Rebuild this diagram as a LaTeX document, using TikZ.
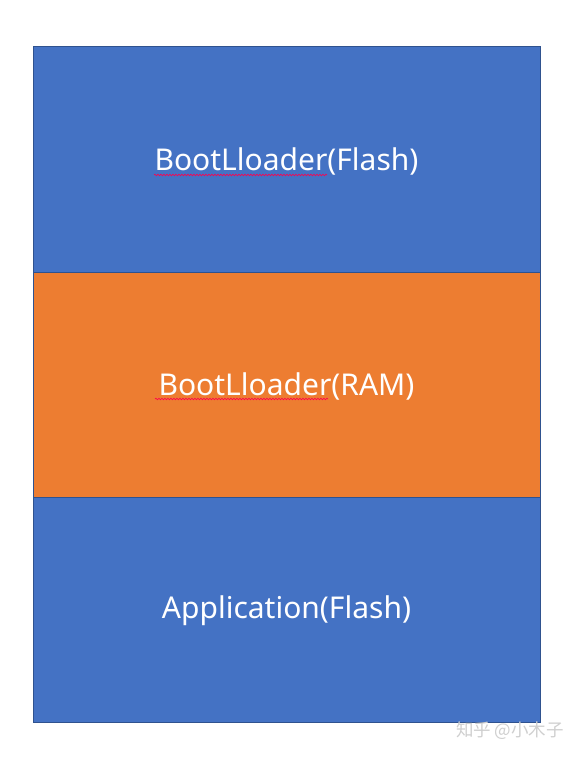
\documentclass[tikz,border=0pt]{standalone}
\usepackage{fontspec}
\setmainfont{Noto Sans}
\newfontfamily\cjk{Noto Sans CJK SC}
\usetikzlibrary{decorations.pathmorphing}
\definecolor{pblue}{HTML}{4472C4}
\definecolor{porange}{HTML}{ED7D31}
\definecolor{pedge}{HTML}{2F528F}
\definecolor{wm}{HTML}{CFCFCF}
\begin{document}
\begin{tikzpicture}[x=1pt,y=-1pt,
  band/.style={draw=pedge,line width=1pt,minimum width=507pt,minimum height=225pt,inner sep=0pt,outer sep=0pt,anchor=north west},
  lbl/.style={text=white,font=\fontsize{30}{36}\selectfont,inner sep=0pt},
  squig/.style={draw=red!70!magenta,line width=0.6pt,decorate,decoration={snake,amplitude=0.8pt,segment length=3pt}}]
\useasboundingbox (0,0) rectangle (578,757);
\fill[white] (0,0) rectangle (578,757);
\node[band,fill=pblue] (b1) at (33,47) {};
\node[band,fill=porange] (b2) at (33,272) {};
\node[band,fill=pblue] (b3) at (33,497) {};
\node[lbl] (t1) at (286.5,161) {BootLloader(Flash)};
\node[lbl] (t2) at (286.5,386) {BootLloader(RAM)};
\node[lbl] (t3) at (286.5,611) {Application(Flash)};
\coordinate (s1a) at (154,175);
\coordinate (s1b) at (327,175);
\draw[squig] (s1a) -- (s1b);
\coordinate (s2a) at (155,399);
\coordinate (s2b) at (328,399);
\draw[squig] (s2a) -- (s2b);
\node[text=wm,font=\cjk\fontsize{17.5}{20}\selectfont,inner sep=0pt] (w) at (510,731) {知乎 @小木子};
\end{tikzpicture}
\end{document}
